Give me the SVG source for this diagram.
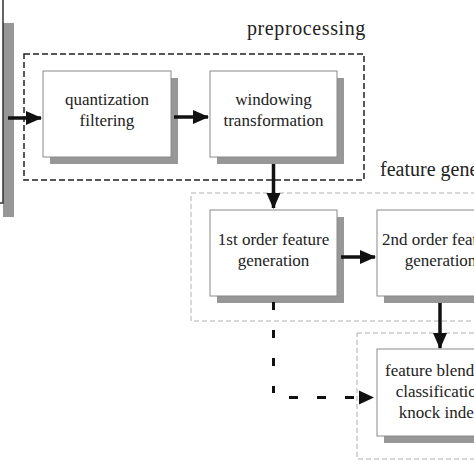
<svg xmlns="http://www.w3.org/2000/svg" width="474" height="474" viewBox="0 0 474 474">
<defs>
<marker id="ah" markerWidth="16" markerHeight="16" refX="15" refY="8" orient="auto" markerUnits="userSpaceOnUse">
<path d="M0,1 L16,8 L0,15 Z" fill="#111"/>
</marker>
</defs>
<style>
.box{fill:#fff;stroke:#8a8a8a;stroke-width:1}
.shadow{fill:#979797}
.lbl{font-family:"Liberation Serif","Times New Roman",serif;font-size:17px;fill:#222;text-anchor:middle}
.grp{font-family:"Liberation Serif","Times New Roman",serif;font-size:20px;fill:#222}
.dk{fill:none;stroke:#222;stroke-width:1.5;stroke-dasharray:6 3}
.lt{fill:none;stroke:#b0b0b0;stroke-width:1;stroke-dasharray:5 3}
.arr{stroke:#111;stroke-width:3.5;fill:none}
</style>
<rect width="474" height="474" fill="#fff"/>
<g id="groups">
<rect class="dk" x="24" y="54" width="340" height="126"/>
<text class="grp" x="247" y="35" letter-spacing="0.6">preprocessing</text>
<rect class="lt" x="191" y="193" width="300" height="128"/>
<text class="grp" x="380" y="176">feature generation</text>
<rect class="lt" x="357" y="333" width="140" height="126"/>
</g>
<g id="input">
<rect class="shadow" x="3" y="23" width="11" height="194"/>
<rect x="-130" y="-20" width="133" height="223" fill="#fff" stroke="#333" stroke-width="1.5"/>
</g>
<g id="quantization">
<rect class="shadow" x="50" y="78" width="128" height="86"/>
<rect class="box" x="43" y="71" width="128" height="86"/>
<text class="lbl" x="107" y="105">quantization</text>
<text class="lbl" x="107" y="126">filtering</text>
</g>
<g id="windowing">
<rect class="shadow" x="217" y="78" width="127" height="86"/>
<rect class="box" x="210" y="71" width="127" height="86"/>
<text class="lbl" x="273.5" y="105">windowing</text>
<text class="lbl" x="273.5" y="126">transformation</text>
</g>
<g id="first">
<rect class="shadow" x="217" y="217" width="127" height="86"/>
<rect class="box" x="210" y="210" width="127" height="86"/>
<text class="lbl" x="273.5" y="245">1st order feature</text>
<text class="lbl" x="273.5" y="266">generation</text>
</g>
<g id="second">
<rect class="shadow" x="384" y="217" width="127" height="86"/>
<rect class="box" x="377" y="210" width="127" height="86"/>
<text class="lbl" x="440.5" y="245">2nd order feature</text>
<text class="lbl" x="440.5" y="266">generation</text>
</g>
<g id="blending">
<rect class="shadow" x="384" y="356" width="127" height="87"/>
<rect class="box" x="377" y="349" width="127" height="87"/>
<text class="lbl" x="440.5" y="376">feature blending</text>
<text class="lbl" x="440.5" y="397">classification</text>
<text class="lbl" x="440.5" y="418">knock index</text>
</g>
<g id="connectors">
<line class="arr" x1="8" y1="118" x2="41" y2="118" marker-end="url(#ah)"/>
<line class="arr" x1="174" y1="117" x2="208" y2="117" marker-end="url(#ah)"/>
<line class="arr" x1="273.5" y1="164" x2="273.5" y2="208" marker-end="url(#ah)"/>
<line class="arr" x1="341" y1="257" x2="375" y2="257" marker-end="url(#ah)"/>
<line class="arr" x1="440" y1="303" x2="440" y2="348" marker-end="url(#ah)"/>
<path d="M273.5,302 V393" stroke="#111" stroke-width="3" stroke-dasharray="8 20" fill="none"/>
<path d="M289,397.5 H360" stroke="#111" stroke-width="3" stroke-dasharray="9 19" fill="none"/>
<path d="M359,390.5 L374,397.5 L359,404.5 Z" fill="#111"/>
</g>
</svg>
